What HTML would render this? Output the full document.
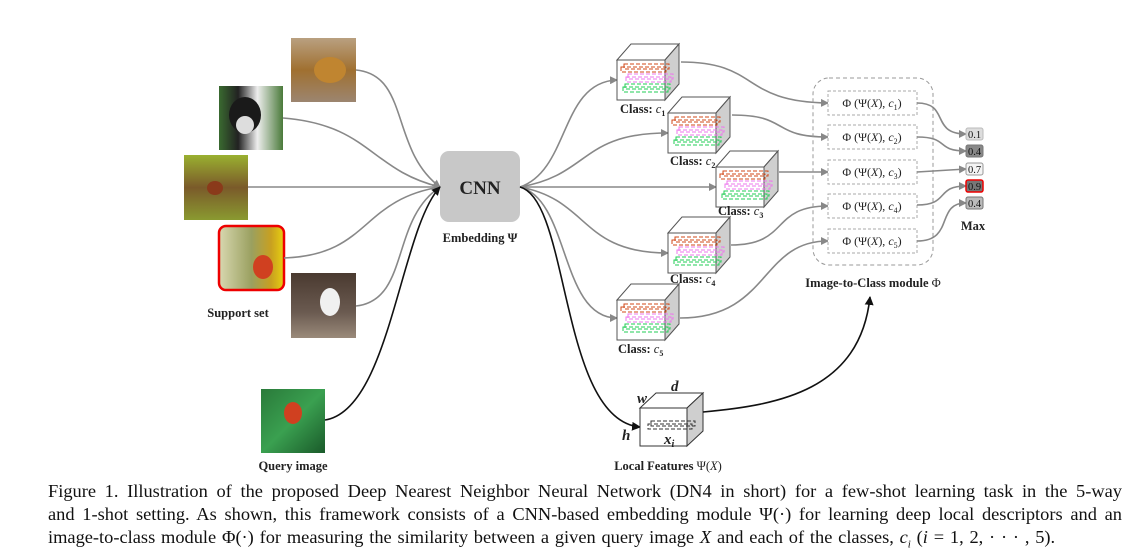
<!DOCTYPE html>
<html><head><meta charset="utf-8"><style>
body{margin:0;background:#fff;width:1143px;height:558px;overflow:hidden;position:relative;font-family:"Liberation Serif",serif}
.cap{position:absolute;left:48px;width:1074px;font-size:18.4px;color:#111;white-space:nowrap;text-align:justify;text-align-last:justify}
</style></head><body>
<svg width="1143" height="478" style="position:absolute;left:0;top:0" font-family="Liberation Serif, serif">
<defs>
<marker id="ag" markerWidth="8" markerHeight="8" refX="7" refY="4" orient="auto" markerUnits="userSpaceOnUse"><path d="M0,0 L8,4 L0,8 z" fill="#888"/></marker>
<marker id="ab" markerWidth="9" markerHeight="9" refX="8" refY="4.5" orient="auto" markerUnits="userSpaceOnUse"><path d="M0,0 L9,4.5 L0,9 z" fill="#111"/></marker>
<g id="cube">
<polygon points="0,0 14,-16 62,-16 48,0" fill="#fff" stroke="#555"/>
<polygon points="48,0 62,-16 62,24 48,40" fill="#cfcfcf" stroke="#555"/>
<rect x="0" y="0" width="48" height="40" fill="#fff" stroke="#555"/>
<g fill="none" stroke-dasharray="4,2" stroke-width="1">
<rect x="4" y="7" width="45" height="5" stroke="#d24a1a"/><rect x="7" y="4" width="45" height="5" stroke="#d24a1a"/>
<rect x="9" y="17" width="45" height="5" stroke="#ee77ee"/><rect x="11" y="14" width="45" height="5" stroke="#ee77ee"/>
<rect x="6" y="27" width="45" height="5" stroke="#22cc55"/><rect x="8" y="24" width="45" height="5" stroke="#22cc55"/>
</g></g>
<linearGradient id="lion" x1="0" y1="0" x2="0" y2="1"><stop offset="0" stop-color="#b9a080"/><stop offset=".5" stop-color="#a07030"/><stop offset="1" stop-color="#9c8570"/></linearGradient>
<linearGradient id="dog" x1="0" y1="0" x2="1" y2="0"><stop offset="0" stop-color="#3a6a30"/><stop offset=".3" stop-color="#222"/><stop offset=".6" stop-color="#eee"/><stop offset="1" stop-color="#4a7a3a"/></linearGradient>
<linearGradient id="bird" x1="0" y1="0" x2="0" y2="1"><stop offset="0" stop-color="#9ab030"/><stop offset=".5" stop-color="#7a5a2a"/><stop offset="1" stop-color="#8a9a30"/></linearGradient>
<linearGradient id="lb" x1="0" y1="0" x2="1" y2="0"><stop offset="0" stop-color="#d8d8b0"/><stop offset=".5" stop-color="#9aa060"/><stop offset=".8" stop-color="#c8a020"/><stop offset="1" stop-color="#e8d010"/></linearGradient>
<linearGradient id="cat" x1="0" y1="0" x2="0" y2="1"><stop offset="0" stop-color="#4a3a30"/><stop offset=".6" stop-color="#6a5a50"/><stop offset="1" stop-color="#9a8a7a"/></linearGradient>
<linearGradient id="q" x1="0" y1="0" x2="1" y2="1"><stop offset="0" stop-color="#2a7a3a"/><stop offset=".5" stop-color="#3aa050"/><stop offset="1" stop-color="#1a5a2a"/></linearGradient>
</defs>
<rect x="291" y="38" width="65" height="64" fill="url(#lion)"/>
<ellipse cx="330" cy="70" rx="16" ry="13" fill="#c08530"/>
<rect x="219" y="86" width="64" height="64" fill="url(#dog)"/>
<ellipse cx="245" cy="115" rx="16" ry="18" fill="#1a1a1a"/><ellipse cx="245" cy="125" rx="9" ry="9" fill="#ddd"/>
<rect x="184" y="155" width="64" height="65" fill="url(#bird)"/>
<ellipse cx="215" cy="188" rx="8" ry="7" fill="#8a3a1a"/>
<rect x="219" y="226" width="65" height="64" rx="7" fill="url(#lb)" stroke="#e00" stroke-width="2.5"/>
<ellipse cx="263" cy="267" rx="10" ry="12" fill="#d04020"/>
<rect x="291" y="273" width="65" height="65" fill="url(#cat)"/>
<ellipse cx="330" cy="302" rx="10" ry="14" fill="#f0f0f0"/>
<rect x="261" y="389" width="64" height="64" fill="url(#q)"/>
<ellipse cx="293" cy="413" rx="9" ry="11" fill="#d04020"/>
<rect x="440" y="151" width="80" height="71" rx="9" fill="#c8c8c8"/>
<text x="480" y="194" text-anchor="middle" font-size="19" font-weight="bold" fill="#222">CNN</text>
<text x="480" y="242" text-anchor="middle" font-size="12.5" font-weight="bold" fill="#222">Embedding Ψ</text>
<text x="238" y="317" text-anchor="middle" font-size="12.5" font-weight="bold" fill="#222">Support set</text>
<text x="293" y="470" text-anchor="middle" font-size="12.5" font-weight="bold" fill="#222">Query image</text>
<g fill="none" stroke="#888" stroke-width="1.6">
<path d="M356,70 C410,75 390,150 440,187" marker-end="url(#ag)"/>
<path d="M283,118 C370,125 370,170 440,187"/>
<path d="M248,187 L440,187"/>
<path d="M284,258 C370,255 360,200 440,187"/>
<path d="M356,306 C410,300 390,220 440,187"/>
</g>
<path d="M325,420 C390,410 400,230 440,187" fill="none" stroke="#111" stroke-width="1.6" marker-end="url(#ab)"/>
<g fill="none" stroke="#888" stroke-width="1.6" marker-end="url(#ag)">
<path d="M520,187 C570,170 560,82 617,80"/>
<path d="M520,187 C590,175 580,133 668,133"/>
<path d="M520,187 L716,187"/>
<path d="M520,187 C590,200 580,253 668,253"/>
<path d="M520,187 C570,200 560,318 617,318"/>
</g>
<path d="M520,187 C570,200 560,420 640,427" fill="none" stroke="#111" stroke-width="1.6" marker-end="url(#ab)"/>
<use href="#cube" x="617" y="60"/>
<use href="#cube" x="668" y="113"/>
<use href="#cube" x="716" y="167"/>
<use href="#cube" x="668" y="233"/>
<use href="#cube" x="617" y="300"/>
<g font-size="12.5" font-weight="bold" fill="#222">
<text x="620" y="113">Class: <tspan font-style="italic" font-weight="normal">c</tspan><tspan font-size="8" dy="3">1</tspan></text>
<text x="670" y="165">Class: <tspan font-style="italic" font-weight="normal">c</tspan><tspan font-size="8" dy="3">2</tspan></text>
<text x="718" y="215">Class: <tspan font-style="italic" font-weight="normal">c</tspan><tspan font-size="8" dy="3">3</tspan></text>
<text x="670" y="283">Class: <tspan font-style="italic" font-weight="normal">c</tspan><tspan font-size="8" dy="3">4</tspan></text>
<text x="618" y="353">Class: <tspan font-style="italic" font-weight="normal">c</tspan><tspan font-size="8" dy="3">5</tspan></text>
</g>
<polygon points="640,408 656,393 703,393 687,408" fill="#fff" stroke="#333"/>
<polygon points="687,408 703,393 703,431 687,446" fill="#cfcfcf" stroke="#333"/>
<rect x="640" y="408" width="47" height="38" fill="#fff" stroke="#333"/>
<rect x="648" y="424" width="44" height="5" fill="none" stroke="#333" stroke-dasharray="4,2"/>
<rect x="651" y="421" width="44" height="5" fill="none" stroke="#333" stroke-dasharray="4,2"/>
<text x="664" y="444" font-size="15" font-style="italic" font-weight="bold" fill="#222">x<tspan font-size="10" dy="3">i</tspan></text>
<text x="637" y="403" font-size="15" font-style="italic" font-weight="bold" fill="#222">w</text>
<text x="671" y="391" font-size="15" font-style="italic" font-weight="bold" fill="#222">d</text>
<text x="622" y="440" font-size="15" font-style="italic" font-weight="bold" fill="#222">h</text>
<text x="668" y="470" text-anchor="middle" font-size="12.5" font-weight="bold" fill="#222">Local Features <tspan font-weight="normal">Ψ(<tspan font-style="italic">X</tspan>)</tspan></text>
<path d="M703,412 C780,405 860,390 870,297" fill="none" stroke="#111" stroke-width="1.6" marker-end="url(#ab)"/>
<g fill="none" stroke="#888" stroke-width="1.6" marker-end="url(#ag)">
<path d="M681,62 C760,62 740,102 828,103"/>
<path d="M732,115 C790,115 770,137 828,137"/>
<path d="M779,172 L828,172"/>
<path d="M731,245 C790,245 770,206 828,206"/>
<path d="M680,318 C770,318 760,241 828,241"/>
</g>
<rect x="813" y="78" width="120" height="187" rx="16" fill="none" stroke="#999" stroke-dasharray="4,3"/>
<g font-size="12" fill="#222">
<rect x="828" y="91" width="89" height="24" fill="#fff" stroke="#aaa" stroke-dasharray="3,2"/>
<text x="872" y="107" text-anchor="middle">Φ (Ψ(<tspan font-style="italic">X</tspan>), <tspan font-style="italic">c</tspan><tspan font-size="8" dy="3">1</tspan><tspan dy="-3">)</tspan></text>
<rect x="828" y="125" width="89" height="24" fill="#fff" stroke="#aaa" stroke-dasharray="3,2"/>
<text x="872" y="141" text-anchor="middle">Φ (Ψ(<tspan font-style="italic">X</tspan>), <tspan font-style="italic">c</tspan><tspan font-size="8" dy="3">2</tspan><tspan dy="-3">)</tspan></text>
<rect x="828" y="160" width="89" height="24" fill="#fff" stroke="#aaa" stroke-dasharray="3,2"/>
<text x="872" y="176" text-anchor="middle">Φ (Ψ(<tspan font-style="italic">X</tspan>), <tspan font-style="italic">c</tspan><tspan font-size="8" dy="3">3</tspan><tspan dy="-3">)</tspan></text>
<rect x="828" y="194" width="89" height="24" fill="#fff" stroke="#aaa" stroke-dasharray="3,2"/>
<text x="872" y="210" text-anchor="middle">Φ (Ψ(<tspan font-style="italic">X</tspan>), <tspan font-style="italic">c</tspan><tspan font-size="8" dy="3">4</tspan><tspan dy="-3">)</tspan></text>
<rect x="828" y="229" width="89" height="24" fill="#fff" stroke="#aaa" stroke-dasharray="3,2"/>
<text x="872" y="245" text-anchor="middle">Φ (Ψ(<tspan font-style="italic">X</tspan>), <tspan font-style="italic">c</tspan><tspan font-size="8" dy="3">5</tspan><tspan dy="-3">)</tspan></text>
</g>
<text x="873" y="287" text-anchor="middle" font-size="12.5" font-weight="bold" fill="#222">Image-to-Class module <tspan font-weight="normal">Φ</tspan></text>
<g fill="none" stroke="#888" stroke-width="1.6" marker-end="url(#ag)">
<path d="M917,103 C950,103 930,134 966,134"/>
<path d="M917,137 C950,137 935,151 966,151"/>
<path d="M917,172 L966,169"/>
<path d="M917,205 C950,205 935,186 966,186"/>
<path d="M917,241 C955,241 935,203 966,203"/>
</g>
<g font-size="10.5" fill="#111">
<rect x="966" y="128" width="17" height="12" rx="2" fill="#ddd" stroke="#bbb"/><text x="968" y="138">0.1</text>
<rect x="966" y="145" width="17" height="12" rx="2" fill="#888" stroke="#777"/><text x="968" y="155">0.4</text>
<rect x="966" y="163" width="17" height="12" rx="2" fill="#f4f4f4" stroke="#999"/><text x="968" y="173">0.7</text>
<rect x="966" y="180" width="17" height="12" rx="2" fill="#777" stroke="#e00" stroke-width="1.5"/><text x="968" y="190">0.9</text>
<rect x="966" y="197" width="17" height="12" rx="2" fill="#bbb" stroke="#777"/><text x="968" y="207">0.4</text>
</g>
<text x="973" y="230" text-anchor="middle" font-size="12.5" font-weight="bold" fill="#222">Max</text>
</svg>
<div class="cap" style="top:481px">Figure 1. Illustration of the proposed Deep Nearest Neighbor Neural Network (DN4 in short) for a few-shot learning task in the 5-way</div>
<div class="cap" style="top:504px">and 1-shot setting. As shown, this framework consists of a CNN-based embedding module Ψ(·) for learning deep local descriptors and an</div>
<div class="cap" style="top:527px;text-align:left;text-align-last:left;word-spacing:1.2px">image-to-class module Φ(·) for measuring the similarity between a given query image <i>X</i> and each of the classes, <i>c<sub style="font-size:11px">i</sub></i> (<i>i</i> = 1, 2, · · · , 5).</div>
</body></html>
